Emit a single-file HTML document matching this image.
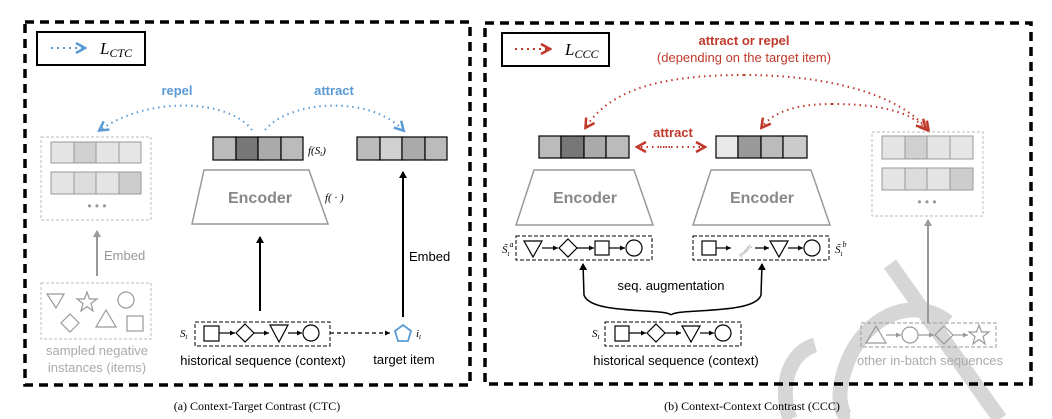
<!DOCTYPE html>
<html><head><meta charset="utf-8"><style>
body{margin:0;background:#fff}
svg{display:block}
text{font-family:"Liberation Sans",sans-serif}
.serif{font-family:"Liberation Serif",serif}
</style></head><body>
<svg width="1052" height="419" viewBox="0 0 1052 419" xmlns="http://www.w3.org/2000/svg">
<defs>
<marker id="ab" markerWidth="8" markerHeight="8" refX="6" refY="4" orient="auto" markerUnits="userSpaceOnUse"><path d="M0,0 L7,4 L0,8 Z" fill="#000"/></marker>
<marker id="as" markerWidth="6" markerHeight="6" refX="5" refY="3" orient="auto" markerUnits="userSpaceOnUse"><path d="M0,0.5 L5,3 L0,5.5 Z" fill="#000"/></marker>
<marker id="ag" markerWidth="8" markerHeight="8" refX="6" refY="4" orient="auto" markerUnits="userSpaceOnUse"><path d="M0,0 L7,4 L0,8 Z" fill="#999"/></marker>
<marker id="asg" markerWidth="6" markerHeight="6" refX="5" refY="3" orient="auto" markerUnits="userSpaceOnUse"><path d="M0,0.5 L5,3 L0,5.5 Z" fill="#999"/></marker>
<marker id="blue" markerWidth="12" markerHeight="12" refX="9" refY="6" orient="auto" markerUnits="userSpaceOnUse"><path d="M1,1 L10,6 L1,11" fill="none" stroke="#5a9bd5" stroke-width="2.5"/></marker>
<marker id="red" markerWidth="12" markerHeight="12" refX="9" refY="6" orient="auto" markerUnits="userSpaceOnUse"><path d="M1,1 L10,6 L1,11" fill="none" stroke="#c0392b" stroke-width="2.5"/></marker>
</defs>

<!-- watermark -->
<g stroke="#d6d6d6" stroke-width="15" fill="none">
<path d="M890,264 L1000,419"/>
<path d="M948,322 C910,292 855,320 842,380 C836,405 845,419 850,419"/>
<path d="M790,419 C778,385 790,352 815,345"/>
</g>

<!-- panel borders -->
<rect x="25" y="22" width="445" height="363" fill="none" stroke="#000" stroke-width="3.5" stroke-dasharray="9,6"/>
<rect x="485" y="23" width="546" height="361" fill="none" stroke="#000" stroke-width="3.5" stroke-dasharray="9,6"/>

<!-- ===== LEFT ===== -->
<rect x="37" y="32" width="108" height="33" fill="none" stroke="#000" stroke-width="2"/>
<line x1="51" y1="48" x2="84" y2="48" stroke="#5a9bd5" stroke-width="2" stroke-dasharray="2,4" marker-end="url(#blue)"/>
<text x="100" y="54" class="serif" font-style="italic" font-size="17">L<tspan font-size="12" dy="3">CTC</tspan></text>

<text x="177" y="95" font-size="13" font-weight="bold" fill="#5a9bd5" text-anchor="middle">repel</text>
<text x="334" y="95" font-size="13" font-weight="bold" fill="#5a9bd5" text-anchor="middle">attract</text>
<path d="M252,130 C230,100 150,95 100,130" fill="none" stroke="#5a9bd5" stroke-width="2" stroke-dasharray="1.5,4" marker-end="url(#blue)"/>
<path d="M265,130 C290,100 370,95 403,130" fill="none" stroke="#5a9bd5" stroke-width="2" stroke-dasharray="1.5,4" marker-end="url(#blue)"/>

<!-- negatives -->
<rect x="41" y="137" width="110" height="83" fill="none" stroke="#bbb" stroke-dasharray="3,2"/>
<g stroke="#999" stroke-width="1">
<rect x="51" y="142" width="23" height="21" fill="#e4e4e4"/><rect x="74" y="142" width="22" height="21" fill="#d0d0d0"/><rect x="96" y="142" width="23" height="21" fill="#e4e4e4"/><rect x="119" y="142" width="22" height="21" fill="#e6e6e6"/>
<rect x="51" y="172" width="23" height="22" fill="#e4e4e4"/><rect x="74" y="172" width="22" height="22" fill="#dcdcdc"/><rect x="96" y="172" width="23" height="22" fill="#e4e4e4"/><rect x="119" y="172" width="22" height="22" fill="#cdcdcd"/>
</g>
<text x="97" y="210" font-size="12" fill="#999" text-anchor="middle">• • •</text>
<line x1="97" y1="276" x2="97" y2="231" stroke="#999" stroke-width="2" marker-end="url(#ag)"/>
<text x="104" y="260" font-size="13" fill="#999">Embed</text>
<rect x="41" y="283" width="110" height="56" fill="none" stroke="#bbb" stroke-dasharray="3,2"/>
<g stroke="#999" stroke-width="1.2" fill="none">
<path d="M47,294 L64,294 L56,308 Z"/>
<path d="M87,292 L89.5,299 L97,299 L91,303.5 L93,311 L87,306.5 L81,311 L83,303.5 L77,299 L84.5,299 Z"/>
<circle cx="126" cy="300" r="8"/>
<path d="M70,314 L79,323 L70,332 L61,323 Z"/>
<path d="M106,310 L116,327 L96,327 Z"/>
<rect x="127" y="316" width="16" height="15"/>
</g>
<text x="97" y="355" font-size="13" fill="#aaa" text-anchor="middle">sampled negative</text>
<text x="97" y="372" font-size="13" fill="#aaa" text-anchor="middle">instances (items)</text>

<g stroke="#000" stroke-width="1.2">
<rect x="213" y="137" width="23" height="23" fill="#bbb"/><rect x="236" y="137" width="22" height="23" fill="#777"/><rect x="258" y="137" width="23" height="23" fill="#aaa"/><rect x="281" y="137" width="22" height="23" fill="#bbb"/>
<rect x="357" y="137" width="23" height="23" fill="#bbb"/><rect x="380" y="137" width="22" height="23" fill="#d0d0d0"/><rect x="402" y="137" width="23" height="23" fill="#aaa"/><rect x="425" y="137" width="22" height="23" fill="#bbb"/>
</g>
<text x="308" y="154" class="serif" font-style="italic" font-size="11">f(S<tspan font-size="7" dy="2">t</tspan><tspan dy="-2">)</tspan></text>
<path d="M204,170 L309,170 L328,224 L192,224 Z" fill="#fff" stroke="#999" stroke-width="1.5"/>
<text x="260" y="203" font-size="16" font-weight="bold" fill="#888" text-anchor="middle">Encoder</text>
<text x="325" y="201" class="serif" font-style="italic" font-size="11">f( · )</text>
<line x1="260" y1="311" x2="260" y2="237" stroke="#000" stroke-width="2" marker-end="url(#ab)"/>
<line x1="403" y1="317" x2="403" y2="172" stroke="#000" stroke-width="2" marker-end="url(#ab)"/>
<text x="409" y="261" font-size="13">Embed</text>

<text x="180" y="337" class="serif" font-style="italic" font-size="11">S<tspan font-size="7" dy="2">t</tspan></text>
<rect x="195" y="322" width="135" height="24" fill="none" stroke="#000" stroke-dasharray="4,2"/>
<g stroke="#000" stroke-width="1.2" fill="none">
<rect x="204" y="326" width="15" height="15"/>
<path d="M245,324 L254,333 L245,342 L236,333 Z"/>
<path d="M270,325 L288,325 L279,342 Z"/>
<circle cx="311" cy="333" r="8"/>
<line x1="219" y1="333" x2="235" y2="333" marker-end="url(#as)"/>
<line x1="254" y1="333" x2="269" y2="333" marker-end="url(#as)"/>
<line x1="288" y1="333" x2="302" y2="333" marker-end="url(#as)"/>
<line x1="330" y1="333" x2="390" y2="333" stroke-dasharray="4,3" marker-end="url(#as)"/>
</g>
<path d="M403,325 L411,331 L408,341 L398,341 L395,331 Z" fill="none" stroke="#5a9bd5" stroke-width="1.8"/>
<text x="416" y="337" class="serif" font-style="italic" font-size="11">i<tspan font-size="7" dy="2">t</tspan></text>
<text x="263" y="365" font-size="13" text-anchor="middle">historical sequence (context)</text>
<text x="404" y="364" font-size="13" text-anchor="middle">target item</text>
<text x="257" y="410" class="serif" font-size="12" text-anchor="middle">(a)  Context-Target Contrast (CTC)</text>

<!-- ===== RIGHT ===== -->
<rect x="502" y="33" width="107" height="33" fill="none" stroke="#000" stroke-width="2"/>
<line x1="515" y1="49" x2="549" y2="49" stroke="#c0392b" stroke-width="2" stroke-dasharray="2,4" marker-end="url(#red)"/>
<text x="565" y="55" class="serif" font-style="italic" font-size="17">L<tspan font-size="12" dy="3">CCC</tspan></text>
<text x="744" y="45" font-size="13" font-weight="bold" fill="#c0392b" text-anchor="middle">attract or repel</text>
<text x="744" y="62" font-size="13" fill="#c0392b" text-anchor="middle">(depending on the target item)</text>
<path d="M744,75 C660,75 610,90 586,127" fill="none" stroke="#c0392b" stroke-width="2" stroke-dasharray="1.5,4" marker-end="url(#red)"/>
<path d="M744,75 C830,75 900,95 928,130" fill="none" stroke="#c0392b" stroke-width="2" stroke-dasharray="1.5,4" marker-end="url(#red)"/>
<path d="M832,104 C800,104 775,110 762,127" fill="none" stroke="#c0392b" stroke-width="2" stroke-dasharray="1.5,4" marker-end="url(#red)"/>
<path d="M832,104 C880,104 910,112 925,128" fill="none" stroke="#c0392b" stroke-width="2" stroke-dasharray="1.5,4" marker-end="url(#red)"/>
<text x="673" y="137" font-size="13" font-weight="bold" fill="#c0392b" text-anchor="middle">attract</text>
<line x1="660" y1="147" x2="704" y2="147" stroke="#c0392b" stroke-width="2" stroke-dasharray="1.5,4" marker-end="url(#red)"/>
<line x1="670" y1="147" x2="638" y2="147" stroke="#c0392b" stroke-width="2" stroke-dasharray="1.5,4" marker-end="url(#red)"/>

<g stroke="#000" stroke-width="1.2">
<rect x="539" y="136" width="22" height="22" fill="#bbb"/><rect x="561" y="136" width="23" height="22" fill="#777"/><rect x="584" y="136" width="22" height="22" fill="#aaa"/><rect x="606" y="136" width="23" height="22" fill="#bbb"/>
<rect x="716" y="136" width="22" height="22" fill="#e8e8e8"/><rect x="738" y="136" width="23" height="22" fill="#999"/><rect x="761" y="136" width="22" height="22" fill="#bbb"/><rect x="783" y="136" width="24" height="22" fill="#ccc"/>
</g>
<path d="M534,170 L634,170 L653,225 L516,225 Z" fill="#fff" stroke="#999" stroke-width="1.5"/>
<text x="585" y="203" font-size="16" font-weight="bold" fill="#888" text-anchor="middle">Encoder</text>
<path d="M711,170 L811,170 L830,225 L693,225 Z" fill="#fff" stroke="#999" stroke-width="1.5"/>
<text x="762" y="203" font-size="16" font-weight="bold" fill="#888" text-anchor="middle">Encoder</text>

<rect x="872" y="132" width="111" height="84" fill="none" stroke="#bbb" stroke-dasharray="3,2"/>
<g stroke="#999" stroke-width="1">
<rect x="882" y="136" width="23" height="23" fill="#e4e4e4"/><rect x="905" y="136" width="22" height="23" fill="#d0d0d0"/><rect x="927" y="136" width="23" height="23" fill="#e4e4e4"/><rect x="950" y="136" width="23" height="23" fill="#e6e6e6"/>
<rect x="882" y="168" width="23" height="22" fill="#e4e4e4"/><rect x="905" y="168" width="22" height="22" fill="#dcdcdc"/><rect x="927" y="168" width="23" height="22" fill="#e4e4e4"/><rect x="950" y="168" width="23" height="22" fill="#cdcdcd"/>
</g>
<text x="927" y="206" font-size="12" fill="#999" text-anchor="middle">• • •</text>
<line x1="928" y1="323" x2="928" y2="220" stroke="#999" stroke-width="2" marker-end="url(#ag)"/>

<text x="502" y="253" class="serif" font-style="italic" font-size="11">S̃<tspan font-size="7" dy="3">t</tspan><tspan font-size="8" dy="-9">a</tspan></text>
<rect x="516" y="236" width="136" height="24" fill="none" stroke="#000" stroke-dasharray="4,2"/>
<g stroke="#000" stroke-width="1.2" fill="none">
<path d="M524,241 L542,241 L533,257 Z"/>
<path d="M568,239 L577,248 L568,257 L559,248 Z"/>
<rect x="595" y="241" width="14" height="14"/>
<circle cx="634" cy="248" r="8"/>
<line x1="542" y1="248" x2="558" y2="248" marker-end="url(#as)"/>
<line x1="577" y1="248" x2="594" y2="248" marker-end="url(#as)"/>
<line x1="609" y1="248" x2="625" y2="248" marker-end="url(#as)"/>
</g>
<rect x="693" y="236" width="136" height="24" fill="none" stroke="#000" stroke-dasharray="4,2"/>
<g stroke="#000" stroke-width="1.2" fill="none">
<rect x="702" y="241" width="14" height="14"/>
<path d="M770,241 L788,241 L779,257 Z"/>
<circle cx="812" cy="248" r="8"/>
<line x1="716" y1="248" x2="731" y2="248" marker-end="url(#as)"/>
<line x1="755" y1="248" x2="769" y2="248" marker-end="url(#as)"/>
<line x1="788" y1="248" x2="803" y2="248" marker-end="url(#as)"/>
</g>
<text x="735" y="254" font-size="5" fill="#888" transform="rotate(-45 742 248)">[mask]</text>
<text x="835" y="253" class="serif" font-style="italic" font-size="11">S̃<tspan font-size="7" dy="3">t</tspan><tspan font-size="8" dy="-9">b</tspan></text>

<text x="671" y="290" font-size="13" text-anchor="middle">seq. augmentation</text>
<path d="M671,315 C665,308 590,315 584,295 L583,264" fill="none" stroke="#000" stroke-width="1.5" marker-end="url(#ab)"/>
<path d="M671,315 C677,308 755,315 761,295 L762,264" fill="none" stroke="#000" stroke-width="1.5" marker-end="url(#ab)"/>

<text x="592" y="337" class="serif" font-style="italic" font-size="11">S<tspan font-size="7" dy="2">t</tspan></text>
<rect x="605" y="322" width="136" height="24" fill="none" stroke="#000" stroke-dasharray="4,2"/>
<g stroke="#000" stroke-width="1.2" fill="none">
<rect x="615" y="326" width="14" height="15"/>
<path d="M656,324 L665,333 L656,342 L647,333 Z"/>
<path d="M682,326 L700,326 L691,342 Z"/>
<circle cx="723" cy="333" r="8"/>
<line x1="629" y1="333" x2="646" y2="333" marker-end="url(#as)"/>
<line x1="665" y1="333" x2="681" y2="333" marker-end="url(#as)"/>
<line x1="700" y1="333" x2="714" y2="333" marker-end="url(#as)"/>
</g>
<text x="676" y="365" font-size="13" text-anchor="middle">historical sequence (context)</text>

<rect x="861" y="323" width="135" height="24" fill="none" stroke="#999" stroke-dasharray="4,2"/>
<g stroke="#999" stroke-width="1.2" fill="none">
<path d="M876,326 L886,343 L866,343 Z"/>
<circle cx="910" cy="335" r="8"/>
<path d="M944,326 L953,335 L944,344 L935,335 Z"/>
<path d="M979,325 L981.5,332 L989,332 L983,336.5 L985,344 L979,339.5 L973,344 L975,336.5 L969,332 L976.5,332 Z"/>
<line x1="886" y1="335" x2="901" y2="335" marker-end="url(#asg)"/>
<line x1="918" y1="335" x2="934" y2="335" marker-end="url(#asg)"/>
<line x1="953" y1="335" x2="968" y2="335" marker-end="url(#asg)"/>
</g>
<text x="930" y="365" font-size="13" fill="#aaa" text-anchor="middle">other in-batch sequences</text>
<text x="752" y="410" class="serif" font-size="12" text-anchor="middle">(b)  Context-Context Contrast (CCC)</text>
</svg>
</body></html>
